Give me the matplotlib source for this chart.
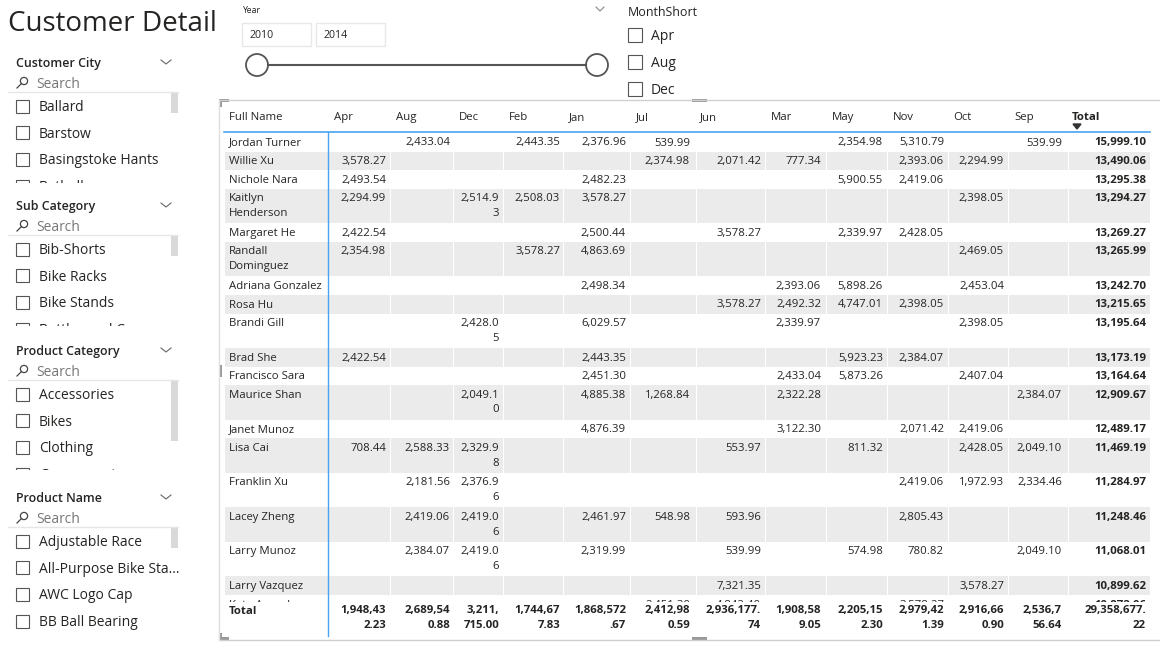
import matplotlib
matplotlib.use("Agg")
import matplotlib.pyplot as plt
from matplotlib.patches import Rectangle, Circle

FONT = "Open Sans"
TXT = "#252423"

months = ["Apr", "Aug", "Dec", "Feb", "Jan", "Jul", "Jun", "Mar", "May", "Nov", "Oct", "Sep"]
names = ["Jordan Turner", "Willie Xu", "Nichole Nara", "Kaitlyn Henderson", "Margaret He",
         "Randall Dominguez", "Adriana Gonzalez", "Rosa Hu", "Brandi Gill", "Brad She",
         "Francisco Sara", "Maurice Shan", "Janet Munoz", "Lisa Cai", "Franklin Xu",
         "Lacey Zheng", "Larry Munoz", "Larry Vazquez", "Kate Anand"]
N = None
apr = [N, 3578.27, 2493.54, 2294.99, 2422.54, 2354.98, N, N, N, 2422.54, N, N, N, 708.44, N, N, N, N, N]
aug = [2433.04, N, N, N, N, N, N, N, N, N, N, N, N, 2588.33, 2181.56, 2419.06, 2384.07, N, N]
dec = [N, N, N, 2514.93, N, N, N, N, 2428.05, N, N, 2049.10, N, 2329.98, 2376.96, 2419.06, 2419.06, N, N]
feb = [2443.35, N, N, 2508.03, N, 3578.27, N, N, N, N, N, N, N, N, N, N, N, N, N]
jan = [2376.96, N, 2482.23, 3578.27, 2500.44, 4863.69, 2498.34, N, 6029.57, 2443.35, 2451.30, 4885.38, 4876.39, N, N, 2461.97, 2319.99, N, N]
jul = [539.99, 2374.98, N, N, N, N, N, N, N, N, N, 1268.84, N, N, N, 548.98, N, N, 2451.30]
jun = [N, 2071.42, N, N, 3578.27, N, N, 3578.27, N, N, N, N, N, 553.97, N, 593.96, 539.99, 7321.35, 4842.40]
mar = [N, 777.34, N, N, N, N, 2393.06, 2492.32, 2339.97, N, 2433.04, 2322.28, 3122.30, N, N, N, N, N, N]
may = [2354.98, N, 5900.55, N, 2339.97, N, 5898.26, 4747.01, N, 5923.23, 5873.26, N, N, 811.32, N, N, 574.98, N, N]
nov = [5310.79, 2393.06, 2419.06, N, 2428.05, N, N, 2398.05, N, 2384.07, N, N, 2071.42, N, 2419.06, 2805.43, 780.82, N, 3578.27]
oct_ = [N, 2294.99, N, 2398.05, N, 2469.05, 2453.04, N, 2398.05, N, 2407.04, N, 2419.06, 2428.05, 1972.93, N, N, 3578.27, N]
sep = [539.99, N, N, N, N, N, N, N, N, N, N, 2384.07, N, 2049.10, 2334.46, N, 2049.10, N, N]
row_total = [15999.10, 13490.06, 13295.38, 13294.27, 13269.27, 13265.99, 13242.70, 13215.65, 13195.64,
             13173.19, 13164.64, 12909.67, 12489.17, 11469.19, 11284.97, 11248.46, 11068.01, 10899.62, 10872.06]
month_totals = [1948432.23, 2689540.88, 3211715.00, 1744677.83, 1868572.67, 2412980.59, 2936177.74,
                1908589.05, 2205152.30, 2979421.39, 2916660.90, 2536756.64]
grand_total = 29358677.22
columns = [apr, aug, dec, feb, jan, jul, jun, mar, may, nov, oct_, sep]

cities = ["Ballard", "Barstow", "Basingstoke Hants", "Bothell"]
subcats = ["Bib-Shorts", "Bike Racks", "Bike Stands", "Bottles and Cages"]
prodcats = ["Accessories", "Bikes", "Clothing", "Components"]
prodnames = ["Adjustable Race", "All-Purpose Bike Sta...", "AWC Logo Cap", "BB Ball Bearing"]
month_slicer = ["Apr", "Aug", "Dec"]
years = ["2010", "2014"]

# ---------- layout (styles) ----------
col_right = [386, 450, 499, 560, 626, 690, 761, 821, 883, 944, 1004, 1062]
col_hdr_x = [334, 396, 459, 509, 569, 636, 700, 771, 832, 893, 953, 1014]
col_left = [328, 390, 453, 503, 563, 630, 696, 765, 826, 887, 948, 1008]
total_right, total_hdr_x = 1146, 1072
body_wrap = [8, 8, 7, 8, 8, 8, 8, 8, 8, 8, 8, 8]
total_wrap = [8, 8, 6, 8, 9, 8, 10, 8, 8, 8, 8, 7, 11]
FS = 8.2
LS = 1.45

fig = plt.figure(figsize=(11.6, 6.55), dpi=100)
ax = fig.add_axes([0, 0, 1, 1])
ax.set_xlim(0, 1160); ax.set_ylim(655, 0); ax.axis("off")

def fmt(v):
    return f"{v:,.2f}"

def wrap(s, n):
    return "\n".join(s[i:i + n] for i in range(0, len(s), n))

def T(x, y, s, size=8, clip=None, **kw):
    kw.setdefault("color", TXT)
    kw.setdefault("va", "center")
    t = ax.text(x, y, s, fontsize=size, family=FONT, **kw)
    if clip is not None:
        t.set_clip_on(True)
        t.set_clip_path(clip)
    return t

T(8, 31, "Customer Detail", 20, va="baseline")

# ---------- left slicers ----------
def slicer(title, y0, items, scroll_h, clip_y):
    T(16, y0 + 4, title, 8.9, fontweight="semibold", va="baseline")
    ax.plot([161, 166, 171], [y0 - 3, y0 + 1, y0 - 3], color="#666", lw=0.8)
    ax.add_patch(Circle((24, y0 + 18), 3.6, fill=False, ec="#444", lw=0.9))
    ax.plot([17, 21.5], [y0 + 25, y0 + 20.5], color="#444", lw=0.9)
    T(36, y0 + 25, "Search", 10, color="#777", va="baseline")
    ax.plot([8, 178], [y0 + 29, y0 + 29], color="#e6e6e6", lw=1)
    ax.add_patch(Rectangle((171, y0 + 30), 7, scroll_h, color="#d9d9d9", lw=0))
    clip = Rectangle((0, y0 + 30), 200, clip_y - (y0 + 30), transform=ax.transData)
    for i, it in enumerate(items):
        yy = y0 + 43 + i * 26.7
        r = Rectangle((16, yy - 6.5), 13, 13, fill=False, ec="#555", lw=0.8)
        ax.add_patch(r); r.set_clip_path(clip)
        T(39, yy + 5, it, 10, clip=clip, va="baseline")

slicer("Customer City", 63, cities, 20, 183)
slicer("Sub Category", 206, subcats, 20, 326)
slicer("Product Category", 351, prodcats, 60, 470)
slicer("Product Name", 498, prodnames, 20, 640)

# ---------- year slicer ----------
T(243, 13, "Year", 6.3, va="baseline")
ax.plot([596, 600, 604], [7, 11, 7], color="#888", lw=0.8)
for i, y in enumerate(years):
    x0 = 242 + i * 74
    ax.add_patch(Rectangle((x0, 23), 69, 23, fill=False, ec="#e8e8e8", lw=1))
    T(x0 + 7, 38.5, y, 7.6, va="baseline")
ax.plot([268, 586], [65, 65], color="#555", lw=1.5)
for cx in (257, 597):
    ax.add_patch(Circle((cx, 65), 11, fc="white", ec="#555", lw=1.3))

# ---------- month slicer ----------
T(628, 16, "MonthShort", 8.9, va="baseline")
for i, m in enumerate(month_slicer):
    yy = 35 + i * 27
    ax.add_patch(Rectangle((628, yy - 7), 14, 14, fill=False, ec="#555", lw=0.8))
    T(651, yy + 5, m, 10, va="baseline")

# ---------- table ----------
ax.plot([220, 1160], [100, 100], color="#d0d0d0", lw=1)
ax.plot([220, 1160], [640, 640], color="#d0d0d0", lw=1)
ax.plot([219, 219], [100, 640], color="#e0e0e0", lw=1)
for (x, y, w, h) in [(219, 99, 10, 3), (219, 99, 3, 8), (692, 99, 15, 3), (692, 637, 15, 3),
                     (219, 365, 3, 12), (219, 633, 3, 8), (219, 637, 10, 3)]:
    ax.add_patch(Rectangle((x, y), w, h, color="#999", lw=0))

HB = 120
T(229, HB, "Full Name", FS, va="baseline")
for m, x in zip(months, col_hdr_x):
    T(x, HB, m, FS, va="baseline")
T(total_hdr_x, HB, "Total", FS, fontweight="bold", va="baseline")
ax.fill([1073, 1081, 1077], [124, 124, 129], color="#333")
ax.plot([224, 1150], [132, 132], color="#4aa3f0", lw=1.2)

body_clip = Rectangle((220, 133), 940, 602 - 133, transform=ax.transData)
y = 133.0
for r, name in enumerate(names):
    nm = name.replace(" ", "\n", 1) if len(name) > 16 else name
    cells = []
    for c, col in enumerate(columns):
        v = col[r]
        cells.append(None if v is None else wrap(fmt(v), body_wrap[c]))
    nlines = max([nm.count("\n") + 1] + [s.count("\n") + 1 for s in cells if s])
    h = 18.6 if nlines == 1 else 34.5
    if r % 2 == 1:
        for x0, x1 in zip([224] + col_left + [1068], col_left + [1068, 1150]):
            p = Rectangle((x0 + 0.5, y), x1 - x0 - 1, h, color="#ebebeb", lw=0)
            ax.add_patch(p); p.set_clip_path(body_clip)
    top = y + 4.5
    T(229, top, nm, FS, clip=body_clip, va="top", linespacing=LS)
    for c, s in enumerate(cells):
        if s:
            T(col_right[c], top, s, FS, clip=body_clip, va="top", ha="right",
              multialignment="right", linespacing=LS)
    T(total_right, top, fmt(row_total[r]), FS, clip=body_clip, va="top", ha="right",
      fontweight="bold")
    y += h

ax.plot([328, 328], [132, 636], color="#4aa3f0", lw=1)
TT = 605.5
T(229, TT, "Total", FS, va="top", fontweight="bold")
for c, v in enumerate(month_totals):
    T(col_right[c], TT, wrap(fmt(v), total_wrap[c]), FS, va="top", ha="right",
      multialignment="right", fontweight="bold", linespacing=LS)
T(total_right, TT, wrap(fmt(grand_total), total_wrap[-1]), FS, va="top", ha="right",
  multialignment="right", fontweight="bold", linespacing=LS)

fig.savefig("out.png", dpi=100, facecolor="white")
